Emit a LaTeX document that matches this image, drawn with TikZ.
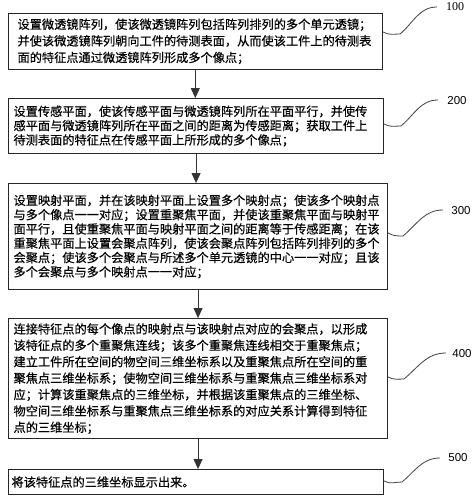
\documentclass[tikz,border=0pt]{standalone}
\usepackage{fontspec}
\setmainfont[FakeBold=0.4]{Noto Sans CJK SC}
\newfontfamily\serifnum{Liberation Serif}
\newfontfamily\sansnum{Liberation Sans}
\usetikzlibrary{arrows.meta,calc}
\begin{document}
\begin{tikzpicture}[x=1pt,y=-1pt,
  stepbox/.style={draw=black!85, line width=1.1pt, anchor=north west, align=left,
    inner ysep=0pt, font=\fontsize{12.2}{14.3}\selectfont},
  flow/.style={draw=black!80, line width=0.9pt, -{Triangle[width=9pt,length=10pt]}},
  lead/.style={draw=black!75, line width=0.8pt},
  num/.style={font=\sansnum\fontsize{11.5}{11.5}\selectfont, inner sep=0pt}]
\useasboundingbox (0,0) rectangle (474,498);

\node[stepbox, inner xsep=9.5pt, text width=355.5pt, minimum height=56.5pt,
  font=\fontsize{12.2}{16.6}\selectfont] (b1) at (7.5,12.5)
{设置微透镜阵列，使该微透镜阵列包括阵列排列的多个单元透镜；\\
并使该微透镜阵列朝向工件的待测表面，从而使该工件上的待测表\\
面的特征点通过微透镜阵列形成多个像点；};

\node[stepbox, inner xsep=5pt, text width=365pt, minimum height=55pt] (b2) at (8,98)
{设置传感平面，使该传感平面与微透镜阵列所在平面平行，并使传\\
感平面与微透镜阵列所在平面之间的距离为传感距离；获取工件上\\
待测表面的特征点在传感平面上所形成的多个像点；};

\node[stepbox, inner xsep=5pt, text width=369pt, minimum height=106pt] (b3) at (8,183)
{设置映射平面，并在该映射平面上设置多个映射点；使该多个映射点\\
与多个像点一一对应；设置重聚焦平面，并使该重聚焦平面与映射平\\
面平行，且使重聚焦平面与映射平面之间的距离等于传感距离；在该\\
重聚焦平面上设置会聚点阵列，使该会聚点阵列包括阵列排列的多个\\
会聚点；使该多个会聚点与所述多个单元透镜的中心一一对应；且该\\
多个会聚点与多个映射点一一对应；};

\node[stepbox, inner xsep=5pt, text width=369pt, minimum height=120pt,
  font=\fontsize{12.2}{16.4}\selectfont] (b4) at (8,318)
{连接特征点的每个像点的映射点与该映射点对应的会聚点，以形成\\
该特征点的多个重聚焦连线；该多个重聚焦连线相交于重聚焦点；\\
建立工件所在空间的物空间三维坐标系以及重聚焦点所在空间的重\\
聚焦点三维坐标系；使物空间三维坐标系与重聚焦点三维坐标系对\\
应；计算该重聚焦点的三维坐标，并根据该重聚焦点的三维坐标、\\
物空间三维坐标系与重聚焦点三维坐标系的对应关系计算得到特征\\
点的三维坐标；};

\node[stepbox, inner xsep=3pt, text width=369pt, minimum height=25pt] (b5) at (8,469)
{将该特征点的三维坐标显示出来。};

% flow arrows
\draw[flow] (b1.south) -- (b1.south |- b2.north);
\draw[flow] (b2.south) -- (b2.south |- b3.north);
\draw[flow] (b3.south) -- (b3.south |- b4.north);
\draw[flow] (b4.south) -- (b4.south |- b5.north);

% labels
\node[num, font=\serifnum\fontsize{12}{12}\selectfont] (n1) at (455,7) {100};
\node[num] (n2) at (457,101) {200};
\node[num] (n3) at (461,211) {300};
\node[num] (n4) at (462,354) {400};
\node[num] (n5) at (458,458) {500};

% leader lines
\coordinate (s1) at ($(b1.north east)+(0,19.5)$);
\coordinate (l1) at (400,34);
\coordinate (e1) at (437,7);
\draw[lead] (s1) to[out=-30,in=180] (l1) to[out=40,in=180] (e1);

\coordinate (s2) at ($(b2.north east)+(0,26)$);
\coordinate (l2) at (401,126);
\coordinate (e2) at (438,100);
\draw[lead] (s2) to[out=-30,in=180] (l2) to[out=40,in=180] (e2);

\coordinate (s3) at ($(b3.north east)+(0,50)$);
\coordinate (l3) at (403,236);
\coordinate (e3) at (443,210);
\draw[lead] (s3) to[out=-30,in=180] (l3) to[out=40,in=180] (e3);

\coordinate (s4) at ($(b4.north east)+(0,59)$);
\coordinate (l4) at (404,379);
\coordinate (e4) at (446,353);
\draw[lead] (s4) to[out=-30,in=180] (l4) to[out=40,in=180] (e4);

\coordinate (s5) at ($(b5.north east)+(0,12)$);
\coordinate (l5) at (402,482);
\coordinate (e5) at (440,458);
\draw[lead] (s5) to[out=-30,in=180] (l5) to[out=40,in=180] (e5);
\end{tikzpicture}
\end{document}
